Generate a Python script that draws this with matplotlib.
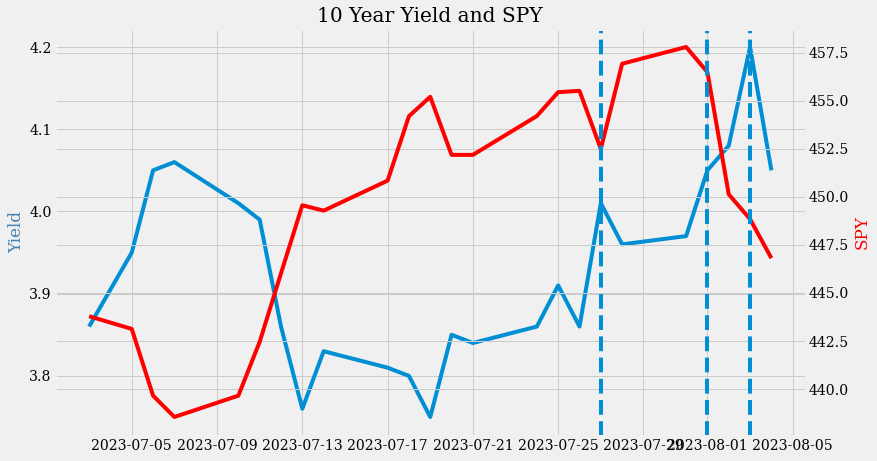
import matplotlib
matplotlib.use('Agg')
import matplotlib.pyplot as plt
import matplotlib.dates as mdates
import pandas as pd

dates = ['2023-07-03', '2023-07-05', '2023-07-06', '2023-07-07', '2023-07-10',
         '2023-07-11', '2023-07-12', '2023-07-13', '2023-07-14', '2023-07-17',
         '2023-07-18', '2023-07-19', '2023-07-20', '2023-07-21', '2023-07-24',
         '2023-07-25', '2023-07-26', '2023-07-27', '2023-07-28', '2023-07-31',
         '2023-08-01', '2023-08-02', '2023-08-03', '2023-08-04']
yields = [3.86, 3.95, 4.05, 4.06, 4.01, 3.99, 3.86, 3.76, 3.83, 3.81,
          3.80, 3.75, 3.85, 3.84, 3.86, 3.91, 3.86, 4.01, 3.96, 3.97,
          4.05, 4.08, 4.20, 4.05]
spy = [443.79, 443.13, 439.66, 438.55, 439.66, 442.46, 446.02, 449.56, 449.28, 450.84,
       454.19, 455.20, 452.18, 452.18, 454.20, 455.44, 455.51, 452.49, 456.92, 457.79,
       456.48, 450.13, 448.84, 446.81]
event_dates = ['2023-07-27', '2023-08-01', '2023-08-03']

plt.style.use('fivethirtyeight')
plt.rcParams['font.family'] = 'serif'

x = pd.to_datetime(dates)

fig, ax = plt.subplots(figsize=(877 / 72, 461 / 72), dpi=72)
fig.subplots_adjust(left=55 / 877, right=805.5 / 877, top=1 - 28.5 / 461, bottom=1 - 435.5 / 461)

ax.plot(x, yields, color='#008fd5')
ax.set_ylabel('Yield', color='steelblue')
ax.set_title('10 Year Yield and SPY')

ax2 = ax.twinx()
ax2.plot(x, spy, color='red')
ax2.set_ylabel('SPY', color='red')
for d in pd.to_datetime(event_dates):
    ax2.axvline(d, color='#008fd5', linestyle='--')

ax.xaxis.set_major_locator(mdates.DayLocator(bymonthday=range(1, 32, 4)))
ax.xaxis.set_major_formatter(mdates.DateFormatter('%Y-%m-%d'))

fig.savefig('out.png', dpi=72)
